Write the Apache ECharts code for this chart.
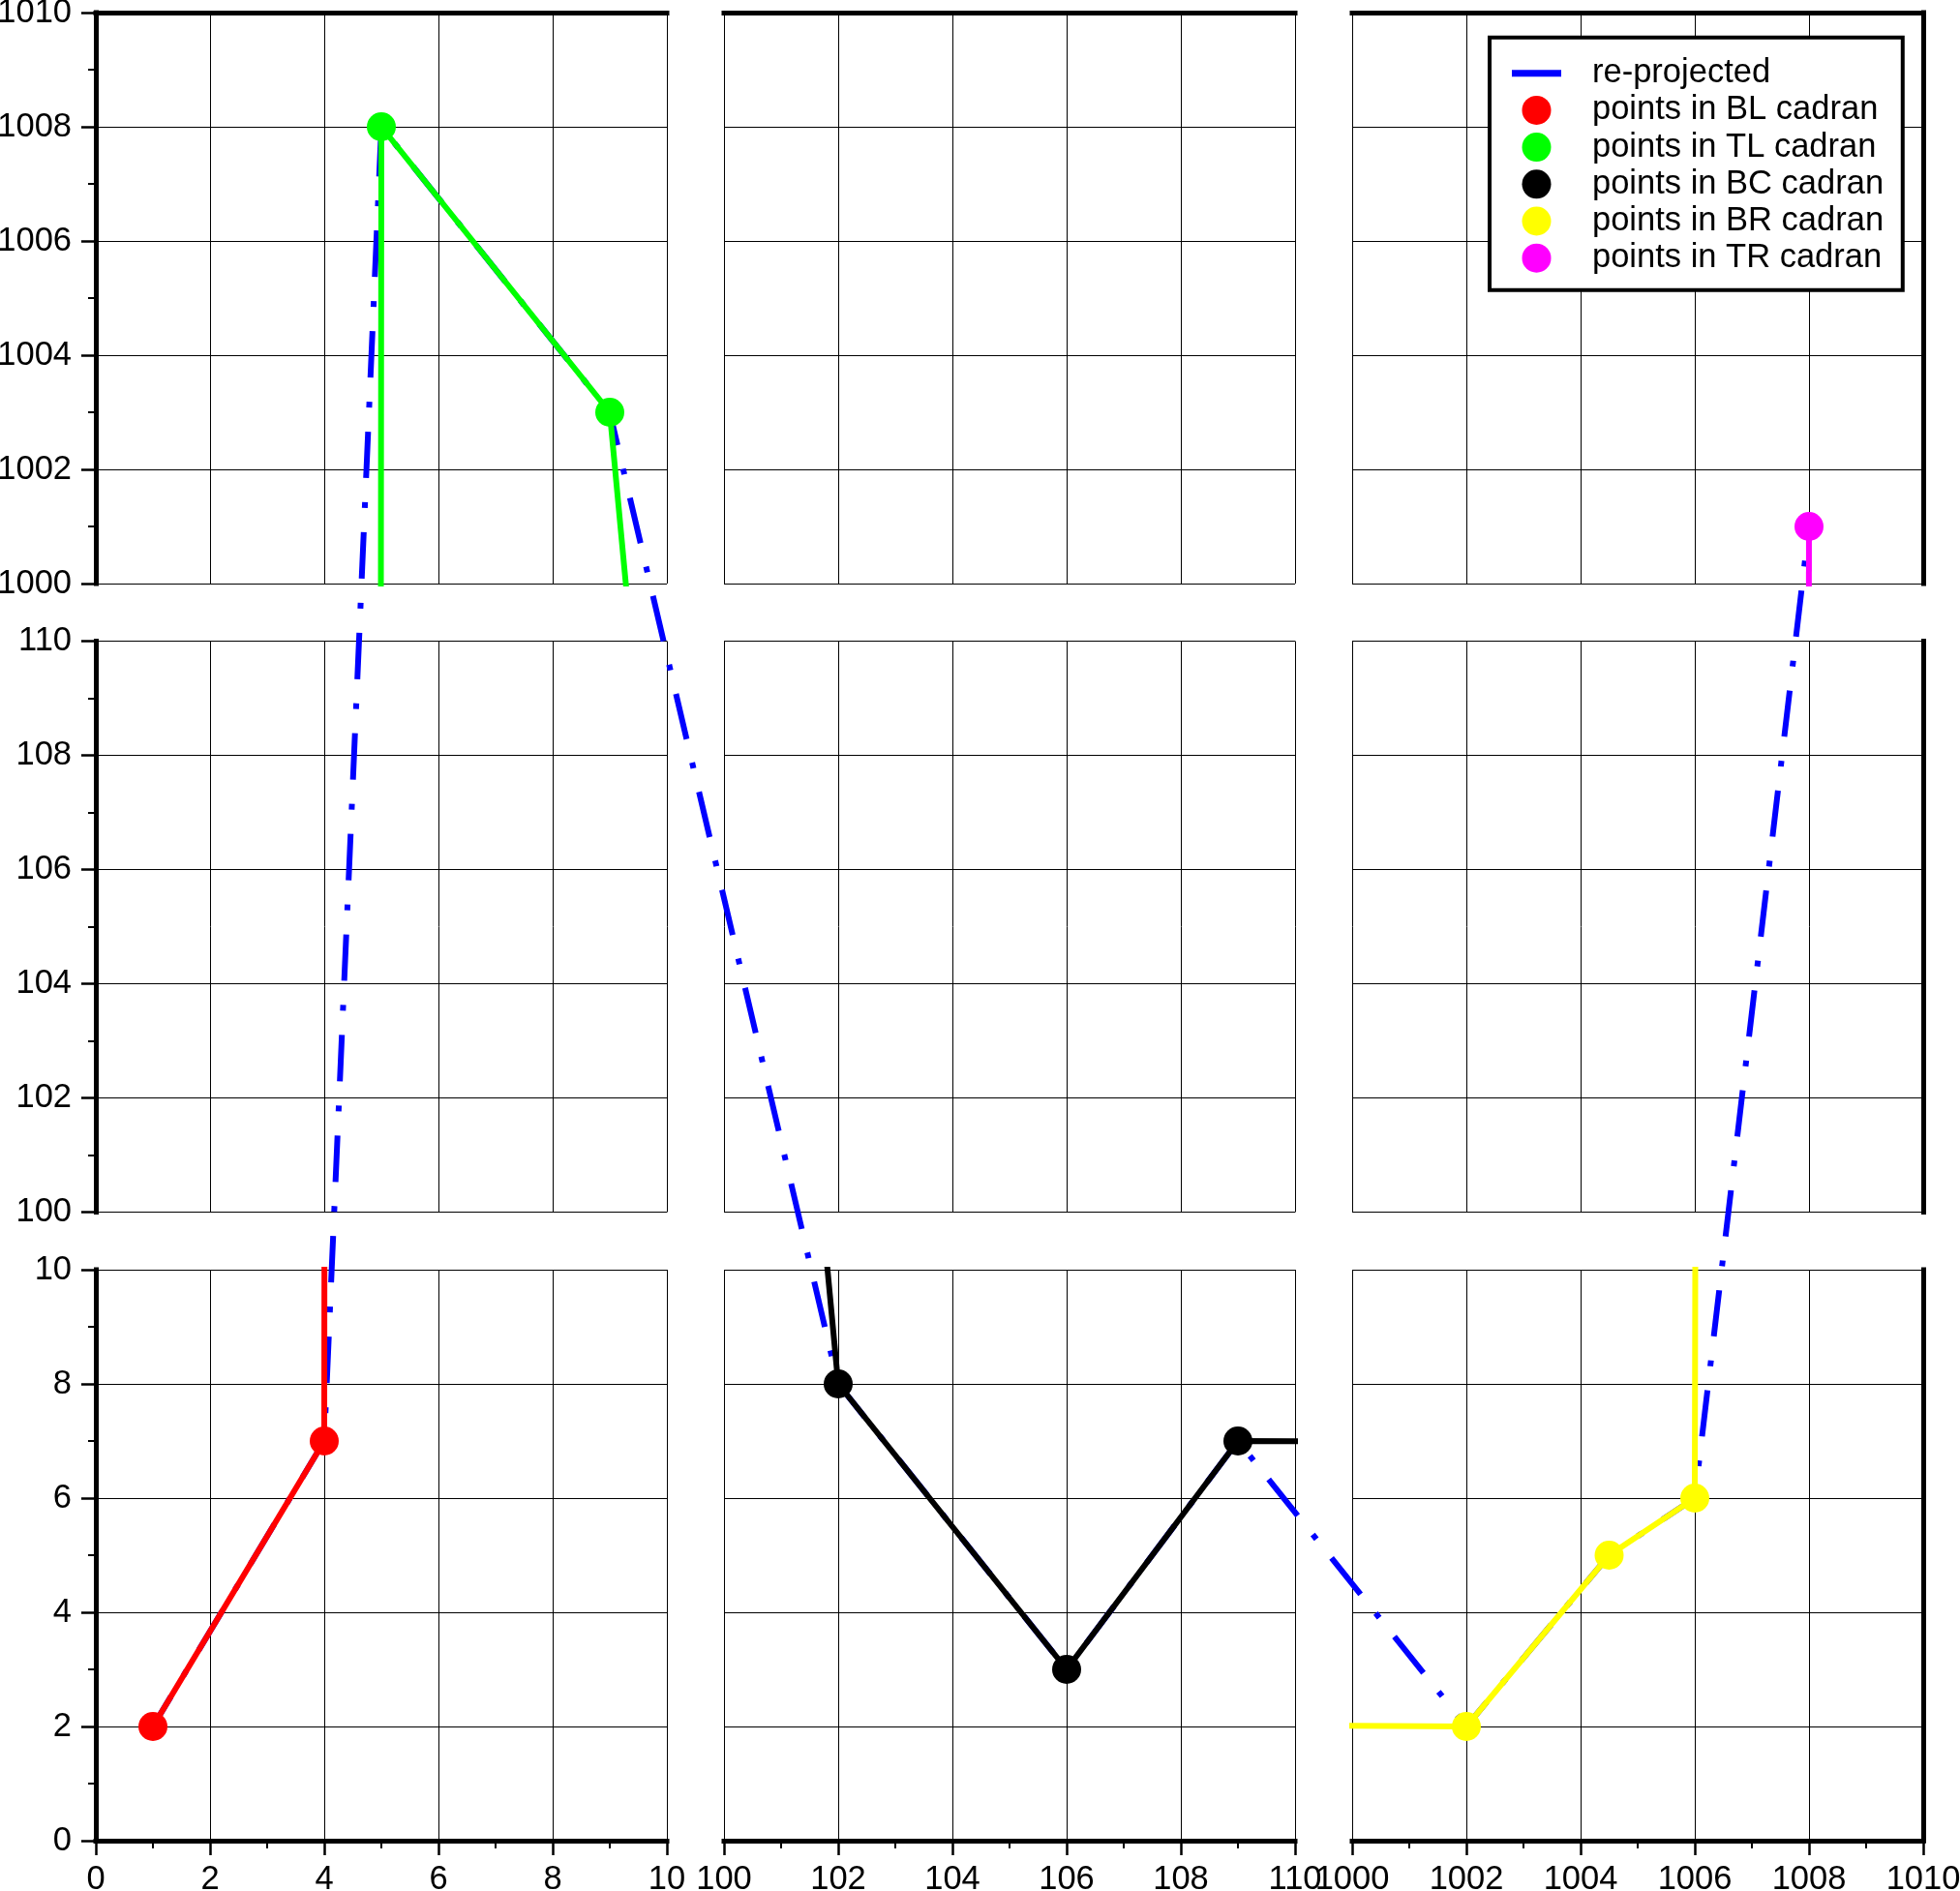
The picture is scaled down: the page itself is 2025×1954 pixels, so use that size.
<!DOCTYPE html>
<html><head><meta charset="utf-8">
<script src="https://cdn.jsdelivr.net/npm/echarts@6/dist/echarts.min.js"></script>
<style>html,body{margin:0;padding:0;background:#fff}#c{width:2025px;height:1954px}</style>
</head><body><div id="c"></div>
<script>
// ---------------- data ----------------
const colXRanges = [[0, 10], [100, 110], [1000, 1010]];          // left, centre, right columns
const rowYRanges = [[1000, 1010], [100, 110], [0, 10]];          // top, middle, bottom rows
const tickStep = 2;

const cadranNames  = ['BL', 'TL', 'BC', 'BR', 'TR'];
const cadranRow    = [2, 0, 2, 2, 0];
const cadranCol    = [0, 0, 1, 2, 2];
const cadranColors = ['#ff0000', '#00ff00', '#000000', '#ffff00', '#ff00ff'];
const ptsBL = [[1, 2], [4, 7]];
const ptsTL = [[5, 1008], [9, 1003]];
const ptsBC = [[102, 8], [106, 3], [109, 7]];
const ptsBR = [[1002, 2], [1004.5, 5], [1006, 6]];
const ptsTR = [[1008, 1001]];
const reprojName = 're-projected';

// ---------------- layout ----------------
const FONT = 'Liberation Sans, Arial, Helvetica, sans-serif';
const colLeft = [99, 748, 1397];
const rowTop = [13, 662.5, 1312];
const SIZE = 590;
const unitPx = SIZE / 10;
const overallBottom = rowTop[2] + SIZE;

const cadranPts = [ptsBL, ptsTL, ptsBC, ptsBR, ptsTR];
const fmt = v => String(v);

const grids = [], xAxes = [], yAxes = [], series = [];
const mainX = {}, mainY = {};
for (let r = 0; r < 3; r++) {
  for (let c = 0; c < 3; c++) {
    const g = grids.length;
    grids.push({left: colLeft[c], top: rowTop[r], width: SIZE, height: SIZE, show: false, outerBoundsMode: 'none', containLabel: false});
    const isB = r === 2, isL = c === 0;
    mainX[r + '_' + c] = xAxes.length;
    xAxes.push({
      gridIndex: g, type: 'value', min: colXRanges[c][0], max: colXRanges[c][1], interval: tickStep,
      position: 'bottom',
      axisLine: {show: isB, onZero: false, lineStyle: {color: '#000', width: 5, cap: 'square'}},
      axisTick: {show: isB, length: 15, lineStyle: {color: '#000', width: 2.5}},
      minorTick: {show: isB, splitNumber: 2, length: 8, lineStyle: {color: '#000', width: 2}},
      axisLabel: {show: isB, margin: 23, fontSize: 34.5, fontFamily: FONT, color: '#000', formatter: fmt, showMinLabel: true, showMaxLabel: true, hideOverlap: false},
      splitLine: {show: true, showMinLine: true, showMaxLine: true, lineStyle: {color: '#000', width: 1}}
    });
    mainY[r + '_' + c] = yAxes.length;
    yAxes.push({
      gridIndex: g, type: 'value', min: rowYRanges[r][0], max: rowYRanges[r][1], interval: tickStep,
      position: 'left',
      axisLine: {show: isL, onZero: false, lineStyle: {color: '#000', width: 5, cap: 'square'}},
      axisTick: {show: isL, length: 15, lineStyle: {color: '#000', width: 2.5}},
      minorTick: {show: isL, splitNumber: 2, length: 8, lineStyle: {color: '#000', width: 2}},
      axisLabel: {show: isL, margin: 25, fontSize: 34.5, fontFamily: FONT, color: '#000', formatter: fmt, showMinLabel: true, showMaxLabel: true, hideOverlap: false},
      splitLine: {show: true, showMinLine: true, showMaxLine: true, lineStyle: {color: '#000', width: 1}}
    });
    if (r === 0) {
      xAxes.push({
        gridIndex: g, type: 'value', min: colXRanges[c][0], max: colXRanges[c][1], interval: tickStep,
        position: 'top',
        axisLine: {show: true, onZero: false, lineStyle: {color: '#000', width: 5, cap: 'square'}},
        axisTick: {show: false}, axisLabel: {show: false}, splitLine: {show: false}
      });
    }
    if (c === 2) {
      yAxes.push({
        gridIndex: g, type: 'value', min: rowYRanges[r][0], max: rowYRanges[r][1], interval: tickStep,
        position: 'right',
        axisLine: {show: true, onZero: false, lineStyle: {color: '#000', width: 5, cap: 'square'}},
        axisTick: {show: false}, axisLabel: {show: false}, splitLine: {show: false}
      });
    }
  }
}

// overlay grid for the re-projected line (whole figure, gaps included)
const ovG = grids.length;
const ovW = (colLeft[2] + SIZE - colLeft[0]) / unitPx;
const ovH = (overallBottom - rowTop[0]) / unitPx;
grids.push({left: colLeft[0], top: rowTop[0], width: colLeft[2] + SIZE - colLeft[0], height: overallBottom - rowTop[0], show: false, outerBoundsMode: 'none', containLabel: false});
const ovX = xAxes.length;
xAxes.push({gridIndex: ovG, type: 'value', min: 0, max: ovW, show: false, splitLine: {show: false}});
const ovY = yAxes.length;
yAxes.push({gridIndex: ovG, type: 'value', min: 0, max: ovH, show: false, splitLine: {show: false}});

function toGlobal(p, r, c) {
  const gx = (colLeft[c] - colLeft[0]) / unitPx + (p[0] - colXRanges[c][0]);
  const gy = (overallBottom - (rowTop[r] + SIZE)) / unitPx + (p[1] - rowYRanges[r][0]);
  return [gx, gy];
}

// full sequence of points
const seq = [];
cadranPts.forEach((pts, i) => pts.forEach(p => seq.push({p, i})));

// re-projected blue dash-dot line
series.push({
  name: reprojName, type: 'line', xAxisIndex: ovX, yAxisIndex: ovY,
  data: seq.map(s => toGlobal(s.p, cadranRow[s.i], cadranCol[s.i])),
  symbol: 'none', clip: false, silent: true, z: 1,
  itemStyle: {color: '#0000ff'},
  lineStyle: {color: '#0000ff', width: 6, type: [48, 25, 6, 25], dashOffset: 12, cap: 'butt'}
});

// per-cadran original lines (with neighbouring points, clipped to the cadran)
cadranNames.forEach((nm, i) => {
  const idx = seq.map((s, k) => s.i === i ? k : -1).filter(k => k >= 0);
  const first = idx[0], last = idx[idx.length - 1];
  const data = [];
  if (first > 0) data.push({value: seq[first - 1].p, symbol: 'none'});
  idx.forEach(k => data.push({value: seq[k].p}));
  if (last < seq.length - 1) data.push({value: seq[last + 1].p, symbol: 'none'});
  const key = cadranRow[i] + '_' + cadranCol[i];
  series.push({
    name: 'points in ' + nm + ' cadran', type: 'line',
    xAxisIndex: mainX[key], yAxisIndex: mainY[key],
    data, clip: true, silent: true, z: 3,
    symbol: 'circle', symbolSize: 30, showSymbol: true, showAllSymbol: true,
    itemStyle: {color: cadranColors[i], borderWidth: 0},
    lineStyle: {color: cadranColors[i], width: 6}
  });
});

const legendData = [{name: reprojName, icon: 'path://M0,0H51V7H0Z', itemStyle: {color: '#0000ff', borderWidth: 0}}]
  .concat(cadranNames.map((nm, i) => ({name: 'points in ' + nm + ' cadran', icon: 'circle', itemStyle: {color: cadranColors[i], borderWidth: 0}})));

const chart = echarts.init(document.getElementById('c'), null, {renderer: 'canvas'});
chart.setOption({
  backgroundColor: '#ffffff',
  animation: false,
  grid: grids, xAxis: xAxes, yAxis: yAxes, series,
  legend: {
    left: 1539, top: 38.7, orient: 'vertical',
    padding: [19.5, 19.7, 15.5, 23],
    itemWidth: 51, itemHeight: 30, itemGap: 3.2,
    backgroundColor: '#ffffff', borderColor: '#000000', borderWidth: 4, borderRadius: 0,
    symbolKeepAspect: true, selectedMode: false, z: 10,
    textStyle: {fontFamily: FONT, fontSize: 34.5, color: '#000', lineHeight: 30, width: 300, padding: [0, 0, 0, 27]},
    data: legendData
  }
});
</script></body></html>
